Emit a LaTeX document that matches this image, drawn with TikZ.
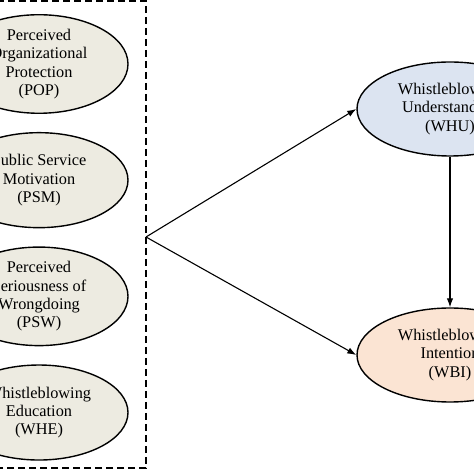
\documentclass[tikz,border=0pt]{standalone}
\usepackage{fontspec}
\setmainfont{Liberation Serif}
\usetikzlibrary{arrows.meta, shapes.geometric, positioning}
\definecolor{factorfill}{HTML}{EDEBE1}
\definecolor{whufill}{HTML}{DCE4F1}
\definecolor{wbifill}{HTML}{FBE4D3}

\begin{document}
\begin{tikzpicture}[x=1pt, y=1pt, font=\fontsize{16.3}{18.3}\selectfont,
    factor/.style={ellipse, draw, line width=1.4pt, fill=factorfill,
        minimum width=178pt, minimum height=95pt, inner sep=0pt, align=center},
    outcome/.style={factor, minimum width=186pt, minimum height=94pt},
    link/.style={-{Latex[length=9pt,width=6.5pt]}, line width=1.1pt}]
\useasboundingbox (0,0) rectangle (474,474);
\clip (0,0) rectangle (474,474);
% antecedents
\node[factor] (pop) at (39,410) {Perceived\\Organizational\\Protection\\(POP)};
\node[factor, below=18pt of pop] (psm) {Public Service\\Motivation\\(PSM)};
\node[factor, below=18pt of psm] (psw) {Perceived\\Seriousness of\\Wrongdoing\\(PSW)};
\node[factor, below=18pt of psw] (whe) {Whistleblowing\\Education\\(WHE)};
\draw[dash pattern=on 7pt off 4pt, line width=1.9pt] (-20,6) rectangle (146,473);
% outcomes
\coordinate (hub) at (146,237);
\node[outcome, fill=whufill] (whu) at (450,365) {Whistleblowing\\Understanding\\(WHU)};
\node[outcome, fill=wbifill] (wbi) at (450,119) {Whistleblowing\\Intention\\(WBI)};
\draw[link] (hub) -- (whu.west);
\draw[link] (hub) -- (wbi.west);
\draw[link] (whu.south) -- (wbi.north);
\end{tikzpicture}
\end{document}
